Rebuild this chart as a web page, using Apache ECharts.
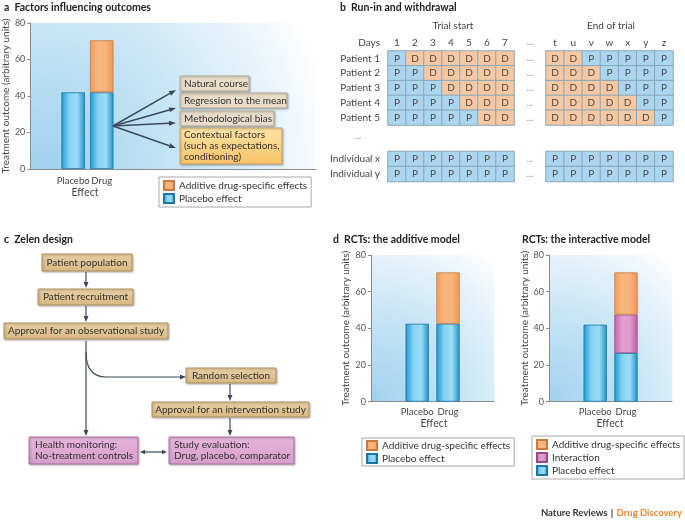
<!DOCTYPE html>
<html><head><meta charset="utf-8">
<script src="https://cdn.jsdelivr.net/npm/echarts@6/dist/echarts.min.js"></script>
<style>html,body{margin:0;padding:0;background:#fff}#c{width:685px;height:521px}</style>
</head><body><div id="c"></div>
<script>
const FONT = 'Lato, "Open Sans", sans-serif';

// ---------- data ----------
const effectCategories = ['Placebo', 'Drug'];
const placeboA = [42, 42];
const additiveA = [null, 28.5];
const placeboD1 = [42.5, 42.5];
const additiveD1 = [null, 28];
const placeboD2 = [42, 26.5];
const interactionD2 = [null, 21];
const additiveD2 = [null, 23];
const yMin = 0, yMax = 80, yStep = 20;

const startDays = ['1', '2', '3', '4', '5', '6', '7'];
const endDays = ['t', 'u', 'v', 'w', 'x', 'y', 'z'];
const patients = ['Patient 1', 'Patient 2', 'Patient 3', 'Patient 4', 'Patient 5'];
const individuals = ['Individual x', 'Individual y'];
const codes = ['P', 'D'];
const startSchedule = [
  ['P', 'D', 'D', 'D', 'D', 'D', 'D'],
  ['P', 'P', 'D', 'D', 'D', 'D', 'D'],
  ['P', 'P', 'P', 'D', 'D', 'D', 'D'],
  ['P', 'P', 'P', 'P', 'D', 'D', 'D'],
  ['P', 'P', 'P', 'P', 'P', 'D', 'D']
];
const endSchedule = [
  ['D', 'D', 'P', 'P', 'P', 'P', 'P'],
  ['D', 'D', 'D', 'P', 'P', 'P', 'P'],
  ['D', 'D', 'D', 'D', 'P', 'P', 'P'],
  ['D', 'D', 'D', 'D', 'D', 'P', 'P'],
  ['D', 'D', 'D', 'D', 'D', 'D', 'P']
];
const individualStart = [
  ['P', 'P', 'P', 'P', 'P', 'P', 'P'],
  ['P', 'P', 'P', 'P', 'P', 'P', 'P']
];
const individualEnd = [
  ['P', 'P', 'P', 'P', 'P', 'P', 'P'],
  ['P', 'P', 'P', 'P', 'P', 'P', 'P']
];

const NAME_ADD = 'Additive drug-specific effects';
const NAME_INT = 'Interaction';
const NAME_PLA = 'Placebo effect';

// ---------- helpers ----------
function padCats(cats, before, total) {
  const out = [];
  for (let i = 0; i < total; i++) {
    const j = i - before;
    out.push(j >= 0 && j < cats.length ? cats[j] : '');
  }
  return out;
}
function padVals(vals, before, total) {
  const out = [];
  for (let i = 0; i < total; i++) {
    const j = i - before;
    const v = j >= 0 && j < vals.length ? vals[j] : null;
    out.push(v == null ? '-' : v);
  }
  return out;
}
function toCells(sched) {
  const out = [];
  sched.forEach((row, yi) => row.forEach((s, xi) => out.push([xi, yi, codes.indexOf(s)])));
  return out;
}
function hGrad(stops) {
  return { type: 'linear', x: 0, y: 0, x2: 1, y2: 0,
    colorStops: stops.map((c, i) => ({ offset: i / (stops.length - 1), color: c })) };
}
const blueStyle = { color: hGrad(['#1b98d0', '#86d2f2', '#9ddcf5', '#1c92c8']), borderColor: '#1a76a6', borderWidth: 0.8 };
const orangeStyle = { color: hGrad(['#f29b58', '#f7b680', '#f7b47d', '#ef9650']), borderColor: '#c97a3e', borderWidth: 0.8 };
const pinkStyle = { color: hGrad(['#c760a6', '#e0a0d0', '#dd9bcc', '#c25ba1']), borderColor: '#9a4b85', borderWidth: 0.8 };

function bgGrad(cx, cy, r) {
  return { type: 'radial', x: cx, y: cy, r: r,
    colorStops: [{ offset: 0, color: '#a2d2ee' }, { offset: 0.45, color: '#c6e4f5' },
                 { offset: 0.8, color: '#e8f4fb' }, { offset: 1, color: '#ffffff' }] };
}

const AX = '#8a8a8a';
function valueY(grid, gap) {
  return {
    gridIndex: grid, type: 'value', min: yMin, max: yMax, interval: yStep,
    name: 'Treatment outcome (arbitrary units)', nameLocation: 'middle', nameGap: gap,
    nameTextStyle: { fontSize: 10, color: '#444', fontFamily: FONT },
    axisLine: { show: true, lineStyle: { color: AX } },
    axisTick: { show: true, length: 3, lineStyle: { color: AX } },
    splitLine: { show: false },
    axisLabel: { fontSize: 9, color: '#555', margin: 5, fontFamily: FONT }
  };
}
function catX(grid, total, margin) {
  return {
    gridIndex: grid, type: 'category', data: padCats(effectCategories, 1, total),
    axisLine: { lineStyle: { color: AX } },
    axisTick: { alignWithLabel: true, interval: (i, v) => v !== '', length: 3, lineStyle: { color: AX } },
    axisLabel: { interval: 0, fontSize: 9.5, color: '#444', margin: margin, fontFamily: FONT }
  };
}
function bar(name, x, data, style, stack, w) {
  return { type: 'bar', name: name, xAxisIndex: x, yAxisIndex: x, stack: stack, barWidth: w,
    data: data, itemStyle: style, emphasis: { disabled: true }, animation: false };
}
function heat(idx, sched) {
  return { type: 'heatmap', xAxisIndex: idx, yAxisIndex: idx, data: toCells(sched),
    label: { show: true, formatter: p => codes[p.value[2]], fontSize: 10, color: '#4a4a4a', fontFamily: FONT },
    itemStyle: { borderColor: '#86a7ba', borderWidth: 1 }, emphasis: { disabled: true } };
}
function dayX(grid, days, show) {
  return { gridIndex: grid, type: 'category', data: days, position: 'top', show: show,
    axisLine: { show: false }, axisTick: { show: false },
    axisLabel: { fontSize: 10, color: '#444', margin: 3, fontFamily: FONT } };
}
function rowY(grid, rows, dots) {
  return { gridIndex: grid, type: 'category', data: rows, inverse: true,
    axisLine: { show: false }, axisTick: { show: false },
    axisLabel: dots
      ? { formatter: () => '...', align: 'center', margin: 16, fontSize: 9, color: '#888', fontFamily: FONT }
      : { fontSize: 10, color: '#444', margin: 8, fontFamily: FONT } };
}

// graphic helpers
const G = [];
function txt(x, y, text, o) {
  o = o || {};
  G.push({ type: 'text', x: x, y: y, z: 10, style: Object.assign({
    text: text, fill: '#333', fontSize: 10, fontFamily: FONT,
    align: 'left', verticalAlign: 'middle'
  }, o) });
}
function box(x, y, w, h, fill, stroke) {
  G.push({ type: 'rect', z: 9, shape: { x: x, y: y, width: w, height: h },
    style: { fill: fill, stroke: stroke, lineWidth: 1,
      shadowBlur: 2, shadowColor: 'rgba(0,0,0,0.25)', shadowOffsetX: 1, shadowOffsetY: 1 } });
}
const ARC = '#3b4a5b';
function head(x2, y2, ang, L, W) {
  const c = Math.cos(ang), s = Math.sin(ang);
  const bx = x2 - L * c, by = y2 - L * s;
  G.push({ type: 'polygon', z: 10, shape: { points: [[x2, y2], [bx + W / 2 * s, by - W / 2 * c], [bx - W / 2 * s, by + W / 2 * c]] },
    style: { fill: ARC } });
  return [bx, by];
}
function arrow(x1, y1, x2, y2, lw, L, W, both) {
  const ang = Math.atan2(y2 - y1, x2 - x1);
  const e = head(x2, y2, ang, L, W);
  let s = [x1, y1];
  if (both) s = head(x1, y1, ang + Math.PI, L, W);
  G.push({ type: 'line', z: 10, shape: { x1: s[0], y1: s[1], x2: e[0], y2: e[1] }, style: { stroke: ARC, lineWidth: lw } });
}

// ---------- panel titles ----------
const titleStyle = { fontWeight: 'bold', fontSize: 10.5, fill: '#222' };
txt(4, 8, 'a  Factors influencing outcomes', titleStyle);
txt(340, 8, 'b  Run-in and withdrawal', titleStyle);
txt(4, 240, 'c  Zelen design', titleStyle);
txt(333, 240, 'd  RCTs: the additive model', titleStyle);
txt(522, 240, 'RCTs: the interactive model', titleStyle);

// ---------- axis titles ----------
txt(85, 193, 'Effect', { align: 'center', fontSize: 10.5, fill: '#444' });
txt(434, 424, 'Effect', { align: 'center', fontSize: 10.5, fill: '#444' });
txt(610, 424, 'Effect', { align: 'center', fontSize: 10.5, fill: '#444' });

// ---------- panel a annotations ----------
[[176, 90], [176, 108], [176, 123], [176, 148]].forEach(p => arrow(113, 126, p[0], p[1], 1.5, 7, 5));
const beige = '#e9ddc9', beigeS = '#b3a999';
box(180, 76, 69, 15, beige, beigeS); txt(184, 83.5, 'Natural course');
box(180, 93, 107, 15, beige, beigeS); txt(184, 100.5, 'Regression to the mean');
box(180, 111, 94, 15, beige, beigeS); txt(184, 118.5, 'Methodological bias');
box(180, 128, 102, 36, { type: 'linear', x: 0, y: 0, x2: 0, y2: 1,
  colorStops: [{ offset: 0, color: '#fde4a6' }, { offset: 1, color: '#f8c267' }] }, '#c9a469');
txt(184, 135, 'Contextual factors');
txt(184, 146, '(such as expectations,');
txt(184, 157, 'conditioning)');

// ---------- panel b annotations ----------
txt(453, 26, 'Trial start', { align: 'center', fill: '#444' });
txt(611, 26, 'End of trial', { align: 'center', fill: '#444' });
txt(380, 43, 'Days', { align: 'right', fill: '#444' });
txt(530, 42, '...', { align: 'center', fill: '#888', fontSize: 9 });
txt(358, 136, '...', { align: 'center', fill: '#888', fontSize: 9 });

// ---------- panel c flowchart ----------
const tan = { type: 'linear', x: 0, y: 0, x2: 0, y2: 1, colorStops: [{ offset: 0, color: '#e8d1a6' }, { offset: 1, color: '#d8b882' }] };
const tanS = '#b1935f';
const pink = { type: 'linear', x: 0, y: 0, x2: 0, y2: 1, colorStops: [{ offset: 0, color: '#e6b7dc' }, { offset: 1, color: '#d69ccb' }] };
const pinkS = '#a9739f';
box(42, 254, 90, 17, tan, tanS); txt(87, 262.5, 'Patient population', { align: 'center' });
box(38, 289, 95, 16, tan, tanS); txt(85.5, 297, 'Patient recruitment', { align: 'center' });
box(4, 323, 164, 16, tan, tanS); txt(86, 331, 'Approval for an observational study', { align: 'center' });
box(186, 368, 90, 15, tan, tanS); txt(231, 375.5, 'Random selection', { align: 'center' });
box(152, 402, 157, 15, tan, tanS); txt(230.5, 409.5, 'Approval for an intervention study', { align: 'center' });
box(29, 437, 109, 27, pink, pinkS); txt(35, 444.5, 'Health monitoring:'); txt(35, 456, 'No-treatment controls');
box(169, 437, 125, 27, pink, pinkS); txt(174, 444.5, 'Study evaluation:'); txt(174, 456, 'Drug, placebo, comparator');

arrow(86, 272, 86, 288, 1.2, 6, 5);
arrow(86, 306, 86, 322, 1.2, 6, 5);
arrow(86, 341, 86, 436, 1.2, 6, 5);
G.push({ type: 'bezierCurve', z: 10, shape: { x1: 86, y1: 352, cpx1: 86, cpy1: 377, x2: 106, y2: 377 },
  style: { stroke: ARC, lineWidth: 1.2, fill: null } });
arrow(106, 377, 186, 377, 1.2, 6, 5);
arrow(230, 384, 230, 401, 1.2, 6, 5);
arrow(230, 418, 230, 436, 1.2, 6, 5);
arrow(140, 452, 167, 452, 1.2, 5, 4.5, true);

// footer
G.push({ type: 'text', x: 682, y: 513, z: 10, style: {
  text: '{a|Nature Reviews} {a||} {b|Drug Discovery}', align: 'right', verticalAlign: 'middle',
  rich: { a: { fontSize: 9.5, fontWeight: 'bold', fill: '#333', fontFamily: FONT },
          b: { fontSize: 9.5, fontWeight: 'bold', fill: '#e8892f', fontFamily: FONT } } } });

// ---------- option ----------
const legendBase = {
  orient: 'vertical', icon: 'rect', itemWidth: 10, itemHeight: 9, itemGap: 2,
  selectedMode: false, borderColor: '#a8a8a8', borderWidth: 1, borderRadius: 0,
  textStyle: { fontSize: 10, color: '#333', fontFamily: FONT }
};

const option = {
  animation: false,
  textStyle: { fontFamily: FONT },
  grid: [
    { left: 30, top: 23, width: 286, height: 146, show: true, borderWidth: 0, backgroundColor: bgGrad(0.05, 0.95, 2) },
    { left: 371, top: 255, width: 123.2, height: 146.7, show: true, borderWidth: 0, backgroundColor: bgGrad(0.02, 0.98, 1.5) },
    { left: 549, top: 255, width: 123.2, height: 146.7, show: true, borderWidth: 0, backgroundColor: bgGrad(0.02, 0.98, 1.5) },
    { left: 388, top: 51, width: 126, height: 74 },
    { left: 546, top: 51, width: 127, height: 74 },
    { left: 388, top: 151.5, width: 126, height: 30 },
    { left: 546, top: 151.5, width: 127, height: 30 }
  ],
  xAxis: [
    catX(0, 10, 7), catX(1, 4, 5), catX(2, 4, 5),
    dayX(3, startDays, true), dayX(4, endDays, true), dayX(5, startDays, false), dayX(6, endDays, false)
  ],
  yAxis: [
    valueY(0, 17), valueY(1, 20), valueY(2, 19),
    rowY(3, patients, false), rowY(4, patients, true), rowY(5, individuals, false), rowY(6, individuals, true)
  ],
  legend: [
    Object.assign({}, legendBase, { left: 159, top: 177, padding: [3, 4, 3, 4], data: [NAME_ADD, NAME_PLA] }),
    Object.assign({}, legendBase, { left: 362, top: 438, padding: [2, 4, 2, 4], data: [NAME_ADD, NAME_PLA] }),
    Object.assign({}, legendBase, { left: 532, top: 436, padding: [3, 4, 3, 4], data: [NAME_ADD, NAME_INT, NAME_PLA] })
  ],
  visualMap: {
    type: 'piecewise', show: false, dimension: 2, seriesIndex: [7, 8, 9, 10],
    pieces: [{ value: 0, color: '#acd6ef' }, { value: 1, color: '#f7c8a1' }]
  },
  series: [
    bar(NAME_PLA, 0, padVals(placeboA, 1, 10), blueStyle, 'a', 23.5),
    bar(NAME_ADD, 0, padVals(additiveA, 1, 10), orangeStyle, 'a', 23.5),
    bar(NAME_PLA, 1, padVals(placeboD1, 1, 4), blueStyle, 'd1', 23.3),
    bar(NAME_ADD, 1, padVals(additiveD1, 1, 4), orangeStyle, 'd1', 23.3),
    bar(NAME_PLA, 2, padVals(placeboD2, 1, 4), blueStyle, 'd2', 23.3),
    bar(NAME_INT, 2, padVals(interactionD2, 1, 4), pinkStyle, 'd2', 23.3),
    bar(NAME_ADD, 2, padVals(additiveD2, 1, 4), orangeStyle, 'd2', 23.3),
    heat(3, startSchedule), heat(4, endSchedule), heat(5, individualStart), heat(6, individualEnd)
  ],
  graphic: { elements: G }
};

const chart = echarts.init(document.getElementById('c'), null, { renderer: 'canvas' });
chart.setOption(option);
</script>
</body></html>
